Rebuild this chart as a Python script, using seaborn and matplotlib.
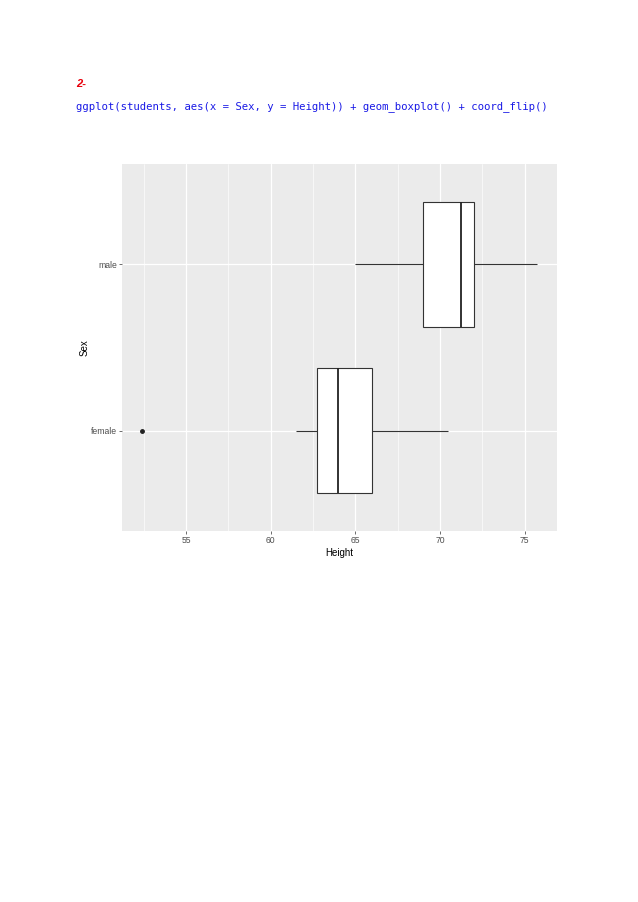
import numpy as np
import pandas as pd
import seaborn as sns
import matplotlib.pyplot as plt
from matplotlib.ticker import MultipleLocator

# heights (chosen so quartiles / whiskers match)
female_heights = [52.4, 61.5, 62.75, 63.5, 64.0, 65.0, 66.0, 68.0, 70.5]
male_heights = [65.0, 68.0, 69.0, 70.0, 71.25, 71.5, 72.0, 73.0, 75.75]
sex_order = ["male", "female"]
height_ticks = [55, 60, 65, 70, 75]

students = pd.DataFrame({
    "Sex": ["female"] * len(female_heights) + ["male"] * len(male_heights),
    "Height": female_heights + male_heights,
})

sns.set_style("darkgrid", {"axes.facecolor": "#EBEBEB", "grid.color": "white"})
plt.rcParams['font.family'] = ['Liberation Sans', 'DejaVu Sans']

fig = plt.figure(figsize=(6.38, 9.02), dpi=100)
fig.patch.set_facecolor("white")

fig.text(76 / 638, 1 - 84 / 902, "2-", color="#E8000B", fontsize=8,
         fontweight="bold", fontstyle="italic", va="center", ha="left")
fig.text(76 / 638, 1 - 107 / 902,
         "ggplot(students, aes(x = Sex, y = Height)) + geom_boxplot() + coord_flip()",
         color="#1A1AE6", fontsize=7.7, family="DejaVu Sans Mono",
         va="center", ha="left")

ax = fig.add_axes([122 / 638, 1 - 531 / 902, 435 / 638, 367 / 902])

sns.boxplot(data=students, x="Height", y="Sex", order=sex_order, orient="h",
            width=0.75, color="white", linecolor="#333333", linewidth=0.8,
            whis=1.5, showcaps=False, ax=ax,
            medianprops={"linewidth": 1.3, "color": "#222222"},
            flierprops={"marker": "o", "markersize": 2.5,
                        "markerfacecolor": "#222222",
                        "markeredgecolor": "#222222"})

ax.set_xlim(51.21, 76.92)
ax.set_ylim(1.6, -0.6)
ax.set_xticks(height_ticks)
ax.xaxis.set_minor_locator(MultipleLocator(2.5))
ax.grid(which="major", color="white", linewidth=0.9)
ax.grid(which="minor", axis="x", color="white", linewidth=0.45)
ax.set_axisbelow(True)
for s in ax.spines.values():
    s.set_visible(False)

ax.tick_params(axis="both", which="major", bottom=True, left=True,
               length=2.2, width=0.5, color="#333333", labelcolor="#4D4D4D",
               labelsize=6.2, pad=1.5)
ax.tick_params(axis="both", which="minor", length=0)

ax.set_xlabel("Height", fontsize=7, color="black", labelpad=2)
ax.set_ylabel("Sex", fontsize=7, color="black", labelpad=1)

fig.savefig("out.png", dpi=100, facecolor="white")
